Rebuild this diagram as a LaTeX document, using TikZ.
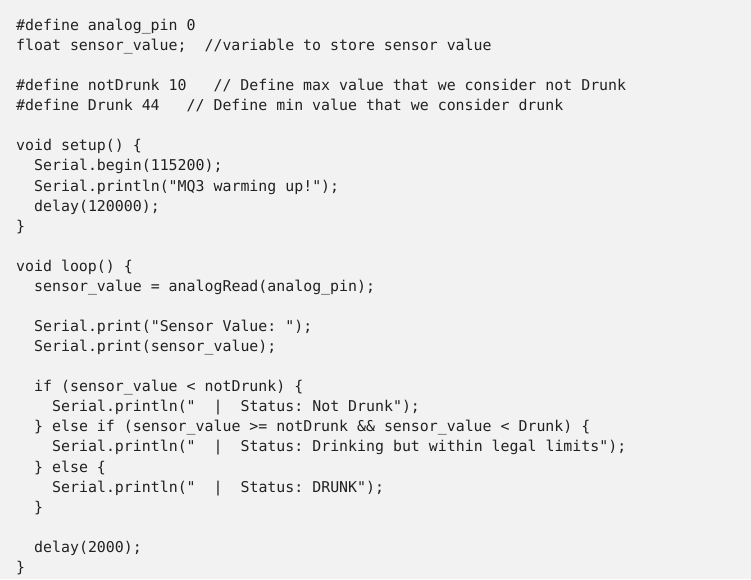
\documentclass[tikz,border=0pt]{standalone}
\usepackage{fontspec}
\setmonofont{DejaVu Sans Mono}
\definecolor{bg}{HTML}{F2F2F2}
\definecolor{ink}{HTML}{222222}
\begin{document}
\begin{tikzpicture}[x=1pt,y=1pt,
  codeline/.style={anchor=base west,inner sep=0pt,text=ink,font=\fontsize{14.9}{16}\ttfamily}]
\fill[bg] (0,0) rectangle (751,-579);
\useasboundingbox (0,0) rectangle (751,-579);
\def\ln#1#2#3#4{\node[codeline] (#1) at (16+9*#2,-30.5-20.07*#3) {#4};}
\ln{l0}{0}{0}{\#define~analog\_pin~0}
\ln{l1}{0}{1}{float~sensor\_value;~~//variable~to~store~sensor~value}
\ln{l3}{0}{3}{\#define~notDrunk~10~~~//~Define~max~value~that~we~consider~not~Drunk}
\ln{l4}{0}{4}{\#define~Drunk~44~~~//~Define~min~value~that~we~consider~drunk}
\ln{l6}{0}{6}{void~setup()~\{}
\ln{l7}{2}{7}{Serial.begin(115200);}
\ln{l8}{2}{8}{Serial.println("MQ3~warming~up!");}
\ln{l9}{2}{9}{delay(120000);}
\ln{l10}{0}{10}{\}}
\ln{l12}{0}{12}{void~loop()~\{}
\ln{l13}{2}{13}{sensor\_value~=~analogRead(analog\_pin);}
\ln{l15}{2}{15}{Serial.print("Sensor~Value:~");}
\ln{l16}{2}{16}{Serial.print(sensor\_value);}
\ln{l18}{2}{18}{if~(sensor\_value~<~notDrunk)~\{}
\ln{l19}{4}{19}{Serial.println("~~|~~Status:~Not~Drunk");}
\ln{l20}{2}{20}{\}~else~if~(sensor\_value~>=~notDrunk~\&\&~sensor\_value~<~Drunk)~\{}
\ln{l21}{4}{21}{Serial.println("~~|~~Status:~Drinking~but~within~legal~limits");}
\ln{l22}{2}{22}{\}~else~\{}
\ln{l23}{4}{23}{Serial.println("~~|~~Status:~DRUNK");}
\ln{l24}{2}{24}{\}}
\ln{l26}{2}{26}{delay(2000);}
\ln{l27}{0}{27}{\}}
\end{tikzpicture}
\end{document}
